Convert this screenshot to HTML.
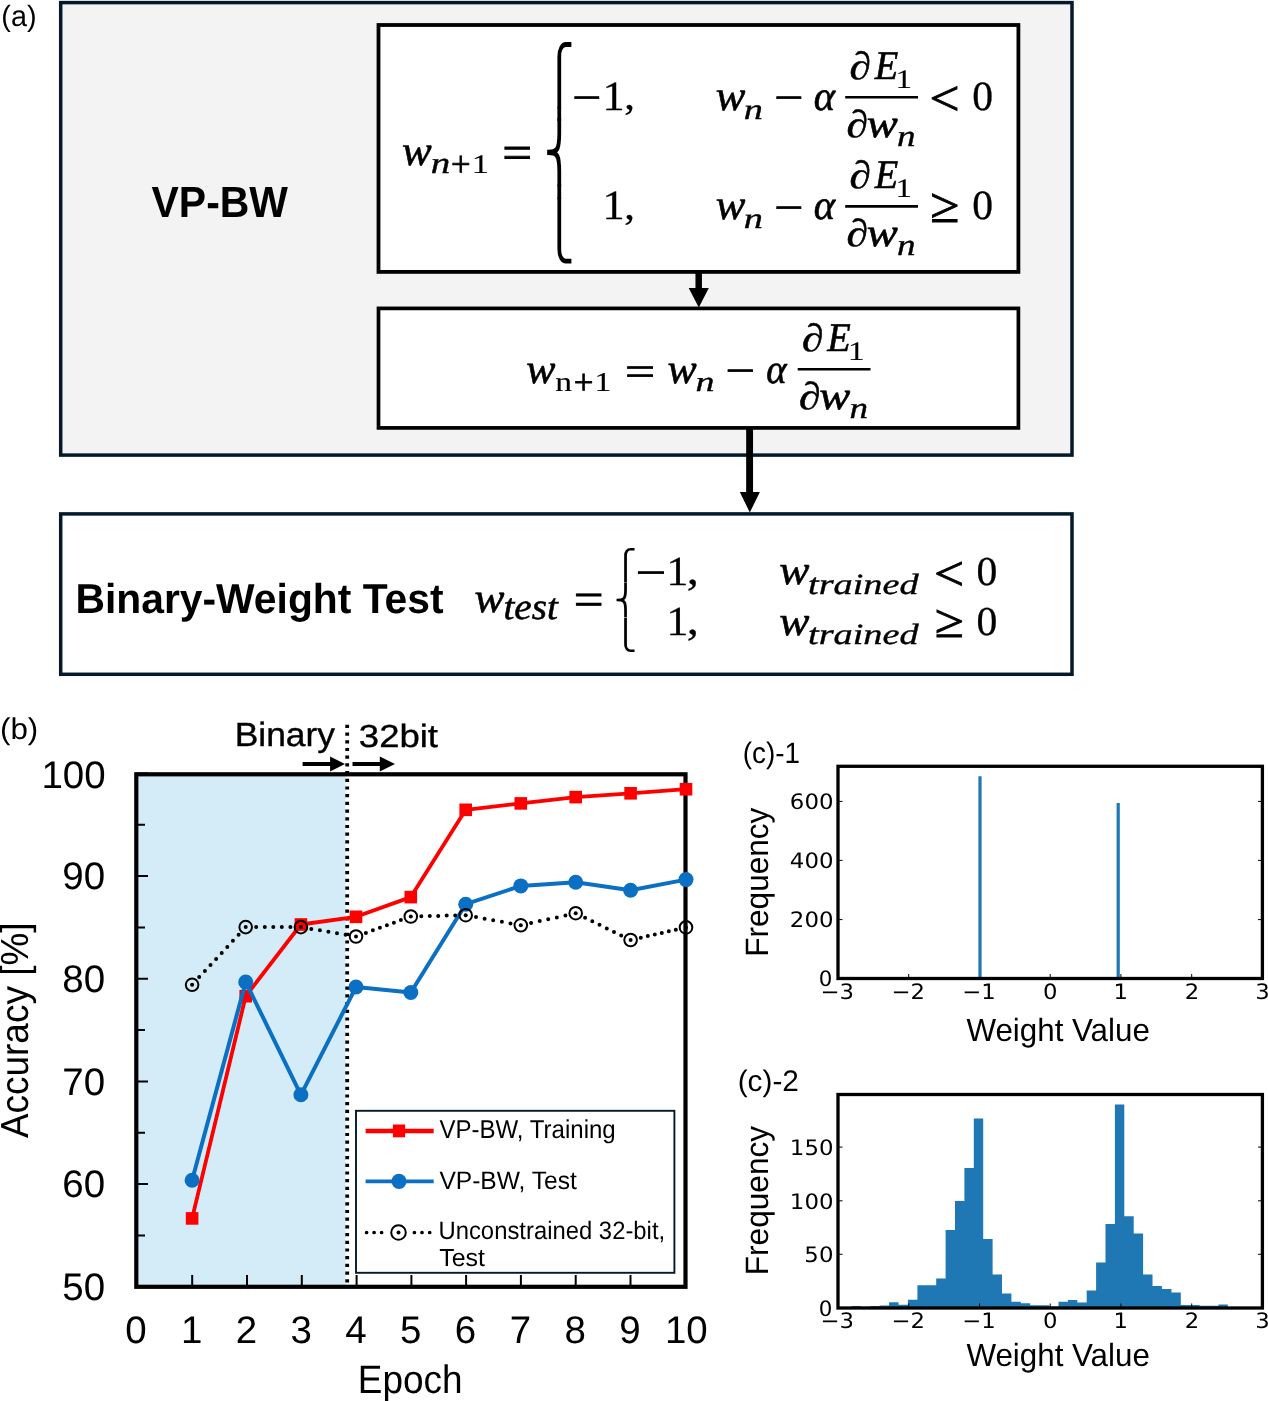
<!DOCTYPE html>
<html lang="en"><head><meta charset="utf-8"><title>VP-BW training figure</title>
<style>html,body{margin:0;padding:0;background:#fff}svg{display:block}text{white-space:pre;font-kerning:normal;font-variant-ligatures:none;text-rendering:geometricPrecision}</style>
</head><body>
<svg width="1268" height="1401" viewBox="0 0 1268 1401">
<rect width="1268" height="1401" fill="#fff"/>
<g id="panel-a">
<rect x="60.7" y="2.6" width="1011.3" height="452.5" fill="#f3f3f3" stroke="#041a2b" stroke-width="3.5"/>
<rect x="378.5" y="25" width="639.9" height="246.9" fill="#fff" stroke="#000" stroke-width="3.8"/>
<rect x="378.5" y="308.4" width="639.9" height="119.5" fill="#fff" stroke="#000" stroke-width="3.7"/>
<rect x="60.7" y="513.9" width="1011.3" height="160.4" fill="#fff" stroke="#041a2b" stroke-width="3.5"/>
<path d="M698.7 272V290" stroke="#000" stroke-width="6.5" fill="none"/>
<path d="M688.7 287.9H708.8L698.8 307.5Z" fill="#000"/>
<path d="M749.6 428V494" stroke="#000" stroke-width="6.9" fill="none"/>
<path d="M739.8 492.1H759.9L749.8 512.4Z" fill="#000"/>
<text transform="translate(1.30 25.80) scale(0.2882 0.2938)" font-family="Liberation Sans, sans-serif" font-size="100">(a)</text>
<text transform="translate(151.59 217.30) scale(0.4090 0.4378)" font-family="Liberation Sans, sans-serif" font-size="100" font-weight="bold">VP-BW</text>
<text transform="translate(402.09 164.57) scale(0.4457 0.4255)" font-family="Liberation Serif, serif" font-size="100" font-style="italic" stroke="#000" stroke-width="1.38">w</text>
<text transform="translate(430.85 172.98) scale(0.3896 0.3013)" font-family="Liberation Serif, serif" font-size="100" font-style="italic" stroke="#000" stroke-width="1.28">n</text>
<text transform="translate(451.03 176.02) scale(0.3476 0.3584)" font-family="Liberation Serif, serif" font-size="100" stroke="#000" stroke-width="2.08">+</text>
<text transform="translate(471.76 172.92) scale(0.3446 0.2674)" font-family="Liberation Serif, serif" font-size="100" stroke="#000" stroke-width="0.51">1</text>
<text transform="translate(502.20 168.10) scale(0.5290 0.4600)" font-family="Liberation Serif, serif" font-size="100" stroke="#000" stroke-width="1.82">=</text>
<text transform="translate(543.79 93.74) scale(0.4137 0.5600)" font-family="DejaVu Sans, sans-serif" font-size="100">⎧</text>
<text transform="translate(543.79 249.86) scale(0.4137 0.5600)" font-family="DejaVu Sans, sans-serif" font-size="100">⎩</text>
<text transform="translate(543.79 172.14) scale(0.4137 0.5700)" font-family="DejaVu Sans, sans-serif" font-size="100">⎨</text>
<text transform="translate(543.79 117.53) scale(0.4137 0.1191)" font-family="DejaVu Sans, sans-serif" font-size="100">⎪</text>
<text transform="translate(543.79 196.09) scale(0.4137 0.1226)" font-family="DejaVu Sans, sans-serif" font-size="100">⎪</text>
<text transform="translate(572.18 111.45) scale(0.5140 0.4000)" font-family="Liberation Serif, serif" font-size="100" stroke="#000" stroke-width="1.98">−</text>
<text transform="translate(602.38 109.85) scale(0.4426 0.4182)" font-family="Liberation Serif, serif" font-size="100" stroke="#000" stroke-width="0.70">1</text>
<text transform="translate(624.15 109.43) scale(0.4267 0.3883)" font-family="Liberation Serif, serif" font-size="100" stroke="#000" stroke-width="0.74">,</text>
<text transform="translate(715.79 109.88) scale(0.4441 0.4234)" font-family="Liberation Serif, serif" font-size="100" font-style="italic" stroke="#000" stroke-width="1.38">w</text>
<text transform="translate(743.76 118.70) scale(0.3832 0.2913)" font-family="Liberation Serif, serif" font-size="100" font-style="italic" stroke="#000" stroke-width="1.23">n</text>
<text transform="translate(774.17 111.45) scale(0.5161 0.4000)" font-family="Liberation Serif, serif" font-size="100" stroke="#000" stroke-width="1.98">−</text>
<text transform="translate(813.68 110.18) scale(0.4059 0.4166)" font-family="Liberation Serif, serif" font-size="100" font-style="italic" stroke="#000" stroke-width="1.46">α</text>
<path d="M845.2 97.2H918.0" stroke="#000" stroke-width="2.6"/>
<text transform="translate(849.49 78.61) scale(0.4333 0.3891)" font-family="Liberation Serif, serif" font-size="100" font-style="italic" stroke="#000" stroke-width="1.46">∂</text>
<text transform="translate(874.68 78.70) scale(0.3835 0.4061)" font-family="Liberation Serif, serif" font-size="100" font-style="italic" stroke="#000" stroke-width="1.52">E</text>
<text transform="translate(895.48 88.03) scale(0.3306 0.2690)" font-family="Liberation Serif, serif" font-size="100" stroke="#000" stroke-width="0.50">1</text>
<text transform="translate(846.58 136.82) scale(0.4357 0.3850)" font-family="Liberation Serif, serif" font-size="100" font-style="italic" stroke="#000" stroke-width="1.46">∂</text>
<text transform="translate(866.73 136.50) scale(0.4661 0.3979)" font-family="Liberation Serif, serif" font-size="100" font-style="italic" stroke="#000" stroke-width="1.39">w</text>
<text transform="translate(897.11 145.69) scale(0.3713 0.3019)" font-family="Liberation Serif, serif" font-size="100" font-style="italic" stroke="#000" stroke-width="1.23">n</text>
<text transform="translate(972.19 109.93) scale(0.4165 0.4163)" font-family="Liberation Serif, serif" font-size="100" stroke="#000" stroke-width="0.72">0</text>
<text transform="translate(602.38 219.05) scale(0.4426 0.4182)" font-family="Liberation Serif, serif" font-size="100" stroke="#000" stroke-width="0.70">1</text>
<text transform="translate(624.15 218.63) scale(0.4267 0.3883)" font-family="Liberation Serif, serif" font-size="100" stroke="#000" stroke-width="0.74">,</text>
<text transform="translate(715.79 219.08) scale(0.4441 0.4234)" font-family="Liberation Serif, serif" font-size="100" font-style="italic" stroke="#000" stroke-width="1.38">w</text>
<text transform="translate(743.76 227.90) scale(0.3832 0.2913)" font-family="Liberation Serif, serif" font-size="100" font-style="italic" stroke="#000" stroke-width="1.23">n</text>
<text transform="translate(774.17 220.65) scale(0.5161 0.4000)" font-family="Liberation Serif, serif" font-size="100" stroke="#000" stroke-width="1.98">−</text>
<text transform="translate(813.68 219.38) scale(0.4059 0.4166)" font-family="Liberation Serif, serif" font-size="100" font-style="italic" stroke="#000" stroke-width="1.46">α</text>
<path d="M845.2 206.4H918.0" stroke="#000" stroke-width="2.6"/>
<text transform="translate(849.49 187.81) scale(0.4333 0.3891)" font-family="Liberation Serif, serif" font-size="100" font-style="italic" stroke="#000" stroke-width="1.46">∂</text>
<text transform="translate(874.68 187.90) scale(0.3835 0.4061)" font-family="Liberation Serif, serif" font-size="100" font-style="italic" stroke="#000" stroke-width="1.52">E</text>
<text transform="translate(895.48 197.23) scale(0.3306 0.2690)" font-family="Liberation Serif, serif" font-size="100" stroke="#000" stroke-width="0.50">1</text>
<text transform="translate(846.58 246.02) scale(0.4357 0.3850)" font-family="Liberation Serif, serif" font-size="100" font-style="italic" stroke="#000" stroke-width="1.46">∂</text>
<text transform="translate(866.73 245.70) scale(0.4661 0.3979)" font-family="Liberation Serif, serif" font-size="100" font-style="italic" stroke="#000" stroke-width="1.39">w</text>
<text transform="translate(897.11 254.89) scale(0.3713 0.3019)" font-family="Liberation Serif, serif" font-size="100" font-style="italic" stroke="#000" stroke-width="1.23">n</text>
<text transform="translate(972.19 219.13) scale(0.4165 0.4163)" font-family="Liberation Serif, serif" font-size="100" stroke="#000" stroke-width="0.72">0</text>
<text transform="translate(929.58 114.95) scale(0.5333 0.4995)" font-family="Liberation Serif, serif" font-size="100" stroke="#000" stroke-width="1.74">&lt;</text>
<text transform="translate(930.13 222.15) scale(0.5305 0.4943)" font-family="Liberation Serif, serif" font-size="100" stroke="#000" stroke-width="1.76">≥</text>
<text transform="translate(526.31 382.78) scale(0.4378 0.4170)" font-family="Liberation Serif, serif" font-size="100" font-style="italic" stroke="#000" stroke-width="1.40">w</text>
<text transform="translate(555.32 391.12) scale(0.3361 0.2754)" font-family="Liberation Serif, serif" font-size="100" stroke="#000" stroke-width="0.51">n</text>
<text transform="translate(573.82 394.20) scale(0.3498 0.3562)" font-family="Liberation Serif, serif" font-size="100" stroke="#000" stroke-width="2.08">+</text>
<text transform="translate(594.36 391.22) scale(0.3445 0.2719)" font-family="Liberation Serif, serif" font-size="100" stroke="#000" stroke-width="0.52">1</text>
<text transform="translate(625.08 384.73) scale(0.5333 0.4040)" font-family="Liberation Serif, serif" font-size="100" stroke="#000" stroke-width="1.94">=</text>
<text transform="translate(667.51 382.78) scale(0.4378 0.4170)" font-family="Liberation Serif, serif" font-size="100" font-style="italic" stroke="#000" stroke-width="1.40">w</text>
<text transform="translate(695.56 391.31) scale(0.3813 0.2811)" font-family="Liberation Serif, serif" font-size="100" font-style="italic" stroke="#000" stroke-width="1.19">n</text>
<text transform="translate(725.44 383.65) scale(0.5226 0.4000)" font-family="Liberation Serif, serif" font-size="100" stroke="#000" stroke-width="1.97">−</text>
<text transform="translate(766.14 383.19) scale(0.3883 0.4145)" font-family="Liberation Serif, serif" font-size="100" font-style="italic" stroke="#000" stroke-width="1.50">α</text>
<path d="M797.7 369.2H870.5" stroke="#000" stroke-width="2.6"/>
<text transform="translate(801.99 350.61) scale(0.4333 0.3891)" font-family="Liberation Serif, serif" font-size="100" font-style="italic" stroke="#000" stroke-width="1.46">∂</text>
<text transform="translate(827.18 350.70) scale(0.3835 0.4061)" font-family="Liberation Serif, serif" font-size="100" font-style="italic" stroke="#000" stroke-width="1.52">E</text>
<text transform="translate(847.98 360.03) scale(0.3306 0.2690)" font-family="Liberation Serif, serif" font-size="100" stroke="#000" stroke-width="0.50">1</text>
<text transform="translate(799.08 408.82) scale(0.4357 0.3850)" font-family="Liberation Serif, serif" font-size="100" font-style="italic" stroke="#000" stroke-width="1.46">∂</text>
<text transform="translate(819.23 408.50) scale(0.4661 0.3979)" font-family="Liberation Serif, serif" font-size="100" font-style="italic" stroke="#000" stroke-width="1.39">w</text>
<text transform="translate(849.61 417.69) scale(0.3713 0.3019)" font-family="Liberation Serif, serif" font-size="100" font-style="italic" stroke="#000" stroke-width="1.23">n</text>
<text transform="translate(75.44 612.80) scale(0.4082 0.4189)" font-family="Liberation Sans, sans-serif" font-size="100" font-weight="bold">Binary-Weight Test</text>
<text transform="translate(474.38 611.58) scale(0.4488 0.4191)" font-family="Liberation Serif, serif" font-size="100" font-style="italic" stroke="#000" stroke-width="1.38">w</text>
<text transform="translate(503.41 619.45) scale(0.3923 0.3695)" font-family="Liberation Serif, serif" font-size="100" font-style="italic" stroke="#000" stroke-width="1.46">test</text>
<text transform="translate(573.70 615.08) scale(0.5290 0.4640)" font-family="Liberation Serif, serif" font-size="100" stroke="#000" stroke-width="1.82">=</text>
<text transform="translate(614.06 575.40) scale(0.3077 0.2900)" font-family="DejaVu Sans, sans-serif" font-size="100">⎧</text>
<text transform="translate(614.06 645.14) scale(0.3077 0.2900)" font-family="DejaVu Sans, sans-serif" font-size="100">⎩</text>
<text transform="translate(614.06 610.27) scale(0.3077 0.2900)" font-family="DejaVu Sans, sans-serif" font-size="100">⎨</text>
<text transform="translate(635.76 586.05) scale(0.5376 0.4000)" font-family="Liberation Serif, serif" font-size="100" stroke="#000" stroke-width="1.94">−</text>
<text transform="translate(666.53 584.85) scale(0.4369 0.4136)" font-family="Liberation Serif, serif" font-size="100" stroke="#000" stroke-width="0.71">1</text>
<text transform="translate(686.82 584.27) scale(0.4867 0.4311)" font-family="Liberation Serif, serif" font-size="100" stroke="#000" stroke-width="0.65">,</text>
<text transform="translate(779.17 584.49) scale(0.4535 0.4128)" font-family="Liberation Serif, serif" font-size="100" font-style="italic" stroke="#000" stroke-width="1.39">w</text>
<text transform="translate(808.08 594.11) scale(0.3825 0.2937)" font-family="Liberation Serif, serif" font-size="100" font-style="italic" stroke="#000" stroke-width="1.18">trained</text>
<text transform="translate(976.39 584.84) scale(0.4165 0.4104)" font-family="Liberation Serif, serif" font-size="100" stroke="#000" stroke-width="0.73">0</text>
<text transform="translate(666.53 635.05) scale(0.4369 0.4136)" font-family="Liberation Serif, serif" font-size="100" stroke="#000" stroke-width="0.71">1</text>
<text transform="translate(686.82 634.47) scale(0.4867 0.4311)" font-family="Liberation Serif, serif" font-size="100" stroke="#000" stroke-width="0.65">,</text>
<text transform="translate(779.17 634.69) scale(0.4535 0.4128)" font-family="Liberation Serif, serif" font-size="100" font-style="italic" stroke="#000" stroke-width="1.39">w</text>
<text transform="translate(808.08 644.31) scale(0.3825 0.2937)" font-family="Liberation Serif, serif" font-size="100" font-style="italic" stroke="#000" stroke-width="1.18">trained</text>
<text transform="translate(976.39 635.04) scale(0.4165 0.4104)" font-family="Liberation Serif, serif" font-size="100" stroke="#000" stroke-width="0.73">0</text>
<text transform="translate(934.08 589.77) scale(0.5333 0.4912)" font-family="Liberation Serif, serif" font-size="100" stroke="#000" stroke-width="1.76">&lt;</text>
<text transform="translate(934.63 636.75) scale(0.5305 0.4716)" font-family="Liberation Serif, serif" font-size="100" stroke="#000" stroke-width="1.80">≥</text>
</g>
<g id="panel-b">
<rect x="136.3" y="774" width="209.3" height="513" fill="#d4ecf7"/>
<path d="M136.3 1286.8H148 M136.3 1235.5H145 M136.3 1184.1H148 M136.3 1132.8H145 M136.3 1081.4H148 M136.3 1030.1H145 M136.3 978.8H148 M136.3 927.4H145 M136.3 876.1H148 M136.3 824.7H145 M136.3 773.4H148 M192.2 1286.8V1275 M247.0 1286.8V1275 M301.8 1286.8V1275 M356.6 1286.8V1275 M411.4 1286.8V1275 M466.1 1286.8V1275 M520.9 1286.8V1275 M575.7 1286.8V1275 M630.5 1286.8V1275" stroke="#000" stroke-width="2" fill="none"/>
<path d="M347.2 724.8V1285" stroke="#000" stroke-width="3.8" stroke-dasharray="3.2 4.5" fill="none"/>
<rect x="136.3" y="774.3" width="549.2" height="512.5" fill="none" stroke="#000" stroke-width="4.2"/>
<path d="M302.6 764H332M352.5 764H382" stroke="#000" stroke-width="4.2" fill="none"/>
<path d="M330.1 756.6L345 764L330.1 771.5ZM379.8 756.6L395 764L379.8 771.5Z" fill="#000"/>
<polyline points="192.1,1218.4 245.7,996.2 300.9,924.5 356.0,916.8 410.8,897.1 465.7,809.8 520.8,803.4 575.7,797.1 630.6,793.3 686.0,789.2" fill="none" stroke="#ff0000" stroke-width="3.8" stroke-linejoin="round"/>
<rect x="185.8" y="1212.1" width="12.6" height="12.6" fill="#ff0000"/>
<rect x="239.4" y="989.9" width="12.6" height="12.6" fill="#ff0000"/>
<rect x="294.6" y="918.2" width="12.6" height="12.6" fill="#ff0000"/>
<rect x="349.7" y="910.5" width="12.6" height="12.6" fill="#ff0000"/>
<rect x="404.5" y="890.8" width="12.6" height="12.6" fill="#ff0000"/>
<rect x="459.4" y="803.5" width="12.6" height="12.6" fill="#ff0000"/>
<rect x="514.5" y="797.1" width="12.6" height="12.6" fill="#ff0000"/>
<rect x="569.4" y="790.8" width="12.6" height="12.6" fill="#ff0000"/>
<rect x="624.3" y="787.0" width="12.6" height="12.6" fill="#ff0000"/>
<rect x="679.7" y="782.9" width="12.6" height="12.6" fill="#ff0000"/>
<polyline points="192.1,1180.3 245.7,982.0 300.9,1094.8 356.0,987.0 410.8,992.5 465.7,904.2 520.8,885.9 575.7,882.3 630.6,890.2 686.0,879.6" fill="none" stroke="#0b70c3" stroke-width="4" stroke-linejoin="round"/>
<circle cx="192.1" cy="1180.3" r="7.5" fill="#0b70c3"/>
<circle cx="245.7" cy="982.0" r="7.5" fill="#0b70c3"/>
<circle cx="300.9" cy="1094.8" r="7.5" fill="#0b70c3"/>
<circle cx="356.0" cy="987.0" r="7.5" fill="#0b70c3"/>
<circle cx="410.8" cy="992.5" r="7.5" fill="#0b70c3"/>
<circle cx="465.7" cy="904.2" r="7.5" fill="#0b70c3"/>
<circle cx="520.8" cy="885.9" r="7.5" fill="#0b70c3"/>
<circle cx="575.7" cy="882.3" r="7.5" fill="#0b70c3"/>
<circle cx="630.6" cy="890.2" r="7.5" fill="#0b70c3"/>
<circle cx="686.0" cy="879.6" r="7.5" fill="#0b70c3"/>
<path d="M199.2 977.1h0M204.9 971.1h0M210.5 965.0h0M216.1 959.0h0M221.7 952.9h0M227.3 946.9h0M232.9 940.8h0M238.6 934.8h0M256.2 927.1h0M264.8 927.1h0M273.3 927.1h0M281.8 927.1h0M290.4 927.1h0M311.3 928.9h0M319.9 930.3h0M328.4 931.8h0M337.0 933.3h0M345.6 934.7h0M365.9 932.9h0M372.9 930.3h0M379.9 927.8h0M386.9 925.2h0M393.9 922.7h0M400.9 920.1h0M421.3 916.3h0M429.8 916.1h0M438.2 915.9h0M446.7 915.6h0M455.2 915.4h0M476.0 917.1h0M484.6 918.7h0M493.2 920.2h0M501.9 921.8h0M510.5 923.4h0M531.1 923.0h0M539.7 921.1h0M548.2 919.2h0M556.8 917.4h0M565.4 915.5h0M585.1 917.8h0M592.3 921.3h0M599.5 924.8h0M606.8 928.4h0M614.0 931.9h0M621.2 935.4h0M640.8 937.7h0M647.8 936.1h0M654.8 934.5h0M661.8 932.9h0M668.8 931.3h0M675.8 929.7h0" fill="none" stroke="#000" stroke-width="4" stroke-linecap="round"/>
<circle cx="192.1" cy="984.8" r="6.3" fill="none" stroke="#000" stroke-width="2"/><circle cx="192.1" cy="984.8" r="2" fill="#000"/>
<circle cx="245.7" cy="927.1" r="6.3" fill="none" stroke="#000" stroke-width="2"/><circle cx="245.7" cy="927.1" r="2" fill="#000"/>
<circle cx="300.9" cy="927.1" r="6.3" fill="none" stroke="#000" stroke-width="2"/><circle cx="300.9" cy="927.1" r="2" fill="#000"/>
<circle cx="356.0" cy="936.5" r="6.3" fill="none" stroke="#000" stroke-width="2"/><circle cx="356.0" cy="936.5" r="2" fill="#000"/>
<circle cx="410.8" cy="916.5" r="6.3" fill="none" stroke="#000" stroke-width="2"/><circle cx="410.8" cy="916.5" r="2" fill="#000"/>
<circle cx="465.7" cy="915.2" r="6.3" fill="none" stroke="#000" stroke-width="2"/><circle cx="465.7" cy="915.2" r="2" fill="#000"/>
<circle cx="520.8" cy="925.3" r="6.3" fill="none" stroke="#000" stroke-width="2"/><circle cx="520.8" cy="925.3" r="2" fill="#000"/>
<circle cx="575.7" cy="913.2" r="6.3" fill="none" stroke="#000" stroke-width="2"/><circle cx="575.7" cy="913.2" r="2" fill="#000"/>
<circle cx="630.6" cy="940.0" r="6.3" fill="none" stroke="#000" stroke-width="2"/><circle cx="630.6" cy="940.0" r="2" fill="#000"/>
<circle cx="686.0" cy="927.4" r="6.3" fill="none" stroke="#000" stroke-width="2"/><circle cx="686.0" cy="927.4" r="2" fill="#000"/>
<rect x="356" y="1110.8" width="318.4" height="162.0" fill="#fff" stroke="#041a2b" stroke-width="1.9"/>
<path d="M365.6 1131H433.7" stroke="#ff0000" stroke-width="4.3"/><rect x="392.9" y="1124.5" width="12.2" height="12.8" fill="#ff0000"/>
<path d="M365.6 1181.3H433.7" stroke="#0b70c3" stroke-width="3.7"/><circle cx="399" cy="1181.3" r="7.6" fill="#0b70c3"/>
<path d="M366.6 1232.5h0M374.1 1232.5h0M381.6 1232.5h0M414.4 1232.5h0M422 1232.5h0M429.7 1232.5h0" stroke="#000" stroke-width="3.7" stroke-linecap="round" fill="none"/>
<circle cx="398.5" cy="1232.5" r="7.3" fill="none" stroke="#000" stroke-width="2"/><circle cx="398.5" cy="1232.5" r="2" fill="#000"/>
<text transform="translate(439.38 1137.80) scale(0.2404 0.2575)" font-family="Liberation Sans, sans-serif" font-size="100">VP-BW, Training</text>
<text transform="translate(439.38 1189.00) scale(0.2458 0.2516)" font-family="Liberation Sans, sans-serif" font-size="100">VP-BW, Test</text>
<text transform="translate(438.45 1239.30) scale(0.2385 0.2516)" font-family="Liberation Sans, sans-serif" font-size="100">Unconstrained 32-bit,</text>
<text transform="translate(439.24 1266.30) scale(0.2491 0.2473)" font-family="Liberation Sans, sans-serif" font-size="100">Test</text>
<text transform="translate(-0.06 738.89) scale(0.3136 0.2992)" font-family="Liberation Sans, sans-serif" font-size="100">(b)</text>
<text transform="translate(234.68 746.40) scale(0.3542 0.3345)" font-family="Liberation Sans, sans-serif" font-size="100" stroke="#000" stroke-width="1.10">Binary</text>
<text transform="translate(358.83 746.60) scale(0.3651 0.3200)" font-family="Liberation Sans, sans-serif" font-size="100" stroke="#000" stroke-width="1.09">32bit</text>
<text transform="translate(62.37 1300.02) scale(0.3845 0.3845)" font-family="Liberation Sans, sans-serif" font-size="100">50</text>
<text transform="translate(62.37 1197.34) scale(0.3845 0.3845)" font-family="Liberation Sans, sans-serif" font-size="100">60</text>
<text transform="translate(62.37 1094.66) scale(0.3845 0.3845)" font-family="Liberation Sans, sans-serif" font-size="100">70</text>
<text transform="translate(62.37 991.98) scale(0.3845 0.3845)" font-family="Liberation Sans, sans-serif" font-size="100">80</text>
<text transform="translate(62.37 889.30) scale(0.3845 0.3845)" font-family="Liberation Sans, sans-serif" font-size="100">90</text>
<text transform="translate(41.43 787.52) scale(0.3845 0.3845)" font-family="Liberation Sans, sans-serif" font-size="100">100</text>
<text transform="translate(125.31 1342.52) scale(0.3845 0.3845)" font-family="Liberation Sans, sans-serif" font-size="100">0</text>
<text transform="translate(180.91 1342.52) scale(0.3845 0.3845)" font-family="Liberation Sans, sans-serif" font-size="100">1</text>
<text transform="translate(235.70 1342.52) scale(0.3845 0.3845)" font-family="Liberation Sans, sans-serif" font-size="100">2</text>
<text transform="translate(290.49 1342.52) scale(0.3845 0.3845)" font-family="Liberation Sans, sans-serif" font-size="100">3</text>
<text transform="translate(345.28 1342.52) scale(0.3845 0.3845)" font-family="Liberation Sans, sans-serif" font-size="100">4</text>
<text transform="translate(400.07 1342.52) scale(0.3845 0.3845)" font-family="Liberation Sans, sans-serif" font-size="100">5</text>
<text transform="translate(454.86 1342.52) scale(0.3845 0.3845)" font-family="Liberation Sans, sans-serif" font-size="100">6</text>
<text transform="translate(509.65 1342.52) scale(0.3845 0.3845)" font-family="Liberation Sans, sans-serif" font-size="100">7</text>
<text transform="translate(564.44 1342.52) scale(0.3845 0.3845)" font-family="Liberation Sans, sans-serif" font-size="100">8</text>
<text transform="translate(619.23 1342.52) scale(0.3845 0.3845)" font-family="Liberation Sans, sans-serif" font-size="100">9</text>
<text transform="translate(664.92 1342.52) scale(0.3845 0.3845)" font-family="Liberation Sans, sans-serif" font-size="100">10</text>
<text transform="translate(357.85 1392.60) scale(0.3695 0.3971)" font-family="Liberation Sans, sans-serif" font-size="100">Epoch</text>
<text transform="translate(27.90 1138.09) rotate(-90) scale(0.3695 0.3913)" font-family="Liberation Sans, sans-serif" font-size="100">Accuracy [%]</text>
</g>
<g id="panel-c1">
<path d="M839 801.4h3.5M1261.5 801.4h-3.5 M839 860.4h3.5M1261.5 860.4h-3.5 M839 919.6h3.5M1261.5 919.6h-3.5 M908.7 977.5v-3.5 M979.5 977.5v-3.5 M1050.2 977.5v-3.5 M1120.9 977.5v-3.5 M1191.7 977.5v-3.5" stroke="#000" stroke-width="1" fill="none"/>
<path d="M980 978.5V776.2M1118.2 978.5V803" stroke="#1f77b4" stroke-width="3.2" fill="none"/>
<rect x="838" y="766.3" width="424.4" height="212.20000000000005" fill="none" stroke="#000" stroke-width="3.3"/>
<text transform="translate(789.84 809.38) scale(0.2288 0.2139)" font-family="DejaVu Sans, sans-serif" font-size="100">600</text>
<text transform="translate(789.84 868.18) scale(0.2288 0.2139)" font-family="DejaVu Sans, sans-serif" font-size="100">400</text>
<text transform="translate(789.84 927.38) scale(0.2288 0.2139)" font-family="DejaVu Sans, sans-serif" font-size="100">200</text>
<text transform="translate(818.81 986.48) scale(0.2139 0.2139)" font-family="DejaVu Sans, sans-serif" font-size="100">0</text>
<text transform="translate(820.54 998.63) scale(0.2274 0.2125)" font-family="DejaVu Sans, sans-serif" font-size="100">−3</text>
<text transform="translate(891.50 998.63) scale(0.2274 0.2125)" font-family="DejaVu Sans, sans-serif" font-size="100">−2</text>
<text transform="translate(962.15 998.63) scale(0.2274 0.2125)" font-family="DejaVu Sans, sans-serif" font-size="100">−1</text>
<text transform="translate(1042.97 998.63) scale(0.2274 0.2125)" font-family="DejaVu Sans, sans-serif" font-size="100">0</text>
<text transform="translate(1113.47 998.63) scale(0.2274 0.2125)" font-family="DejaVu Sans, sans-serif" font-size="100">1</text>
<text transform="translate(1184.71 998.63) scale(0.2274 0.2125)" font-family="DejaVu Sans, sans-serif" font-size="100">2</text>
<text transform="translate(1255.19 998.63) scale(0.2274 0.2125)" font-family="DejaVu Sans, sans-serif" font-size="100">3</text>
<text transform="translate(742.76 762.86) scale(0.2792 0.2960)" font-family="Liberation Sans, sans-serif" font-size="100">(c)-1</text>
<text transform="translate(966.44 1040.50) scale(0.3132 0.3215)" font-family="Liberation Sans, sans-serif" font-size="100">Weight Value</text>
<text transform="translate(768.40 956.70) rotate(-90) scale(0.3153 0.3229)" font-family="Liberation Sans, sans-serif" font-size="100">Frequency</text>
</g>
<g id="panel-c2">
<path d="M851.5 1308V1306.0H860.9V1306.8H870.3V1306.0H879.7V1305.4H889.1V1302.3H898.5V1304.7H907.9V1299.8H917.4V1285.2H926.8V1285.2H936.2V1278.6H945.6V1230.1H955.0V1201.0H964.4V1168.0H973.8V1118.5H983.2V1239.1H992.6V1274.6H1002.0V1293.4H1011.4V1301.7H1020.8V1303.3H1030.2V1305.2H1039.7V1305.2H1049.1V1306.6H1058.5V1301.7H1067.9V1300.0H1077.3V1302.4H1086.7V1290.6H1096.1V1262.4H1105.5V1224.0H1114.9V1104.6H1124.3V1216.2H1133.7V1233.4H1143.1V1274.6H1152.5V1286.0H1161.9V1289.0H1171.4V1292.6H1180.8V1305.0H1190.2V1305.0H1199.6V1305.8H1209.0V1305.8H1218.4V1304.5H1227.8V1308Z" fill="#1f77b4"/>
<path d="M839 1147.1h3.5M1261.5 1147.1h-3.5 M839 1200.8h3.5M1261.5 1200.8h-3.5 M839 1254.3h3.5M1261.5 1254.3h-3.5 M908.7 1307v-3.5 M979.5 1307v-3.5 M1050.2 1307v-3.5 M1120.9 1307v-3.5 M1191.7 1307v-3.5" stroke="#000" stroke-width="1" fill="none"/>
<rect x="838" y="1094.5" width="424.4" height="213.5" fill="none" stroke="#000" stroke-width="3.3"/>
<text transform="translate(789.84 1155.08) scale(0.2288 0.2139)" font-family="DejaVu Sans, sans-serif" font-size="100">150</text>
<text transform="translate(789.84 1208.58) scale(0.2288 0.2139)" font-family="DejaVu Sans, sans-serif" font-size="100">100</text>
<text transform="translate(804.37 1262.18) scale(0.2288 0.2139)" font-family="DejaVu Sans, sans-serif" font-size="100">50</text>
<text transform="translate(818.81 1315.68) scale(0.2139 0.2139)" font-family="DejaVu Sans, sans-serif" font-size="100">0</text>
<text transform="translate(820.54 1328.13) scale(0.2274 0.2125)" font-family="DejaVu Sans, sans-serif" font-size="100">−3</text>
<text transform="translate(891.50 1328.13) scale(0.2274 0.2125)" font-family="DejaVu Sans, sans-serif" font-size="100">−2</text>
<text transform="translate(962.15 1328.13) scale(0.2274 0.2125)" font-family="DejaVu Sans, sans-serif" font-size="100">−1</text>
<text transform="translate(1042.97 1328.13) scale(0.2274 0.2125)" font-family="DejaVu Sans, sans-serif" font-size="100">0</text>
<text transform="translate(1113.47 1328.13) scale(0.2274 0.2125)" font-family="DejaVu Sans, sans-serif" font-size="100">1</text>
<text transform="translate(1184.71 1328.13) scale(0.2274 0.2125)" font-family="DejaVu Sans, sans-serif" font-size="100">2</text>
<text transform="translate(1255.19 1328.13) scale(0.2274 0.2125)" font-family="DejaVu Sans, sans-serif" font-size="100">3</text>
<text transform="translate(737.64 1090.64) scale(0.2981 0.2971)" font-family="Liberation Sans, sans-serif" font-size="100">(c)-2</text>
<text transform="translate(966.44 1365.50) scale(0.3132 0.3215)" font-family="Liberation Sans, sans-serif" font-size="100">Weight Value</text>
<text transform="translate(768.40 1275.31) rotate(-90) scale(0.3164 0.3229)" font-family="Liberation Sans, sans-serif" font-size="100">Frequency</text>
</g>
</svg>
</body></html>
